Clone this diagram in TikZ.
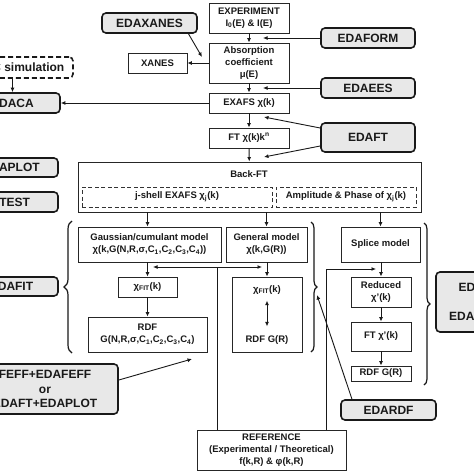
\documentclass[tikz,border=0pt]{standalone}
\usepackage{fontspec}
\setmainfont{Liberation Sans}
\usetikzlibrary{arrows.meta,decorations.pathreplacing}
\begin{document}
\begin{tikzpicture}[x=1pt,y=-1pt,
  box/.style={draw=black!85, line width=0.9pt, fill=white, text=black!90,
    font=\fontsize{9.5}{12}\selectfont\bfseries, align=center, inner sep=1pt},
  gbox/.style={draw=black!90, line width=1.6pt, rounded corners=4pt, fill=black!9, text=black!90,
    font=\fontsize{12}{14.5}\selectfont\bfseries, align=center, inner sep=1pt},
  dbox/.style={draw=black!80, line width=1pt, dash pattern=on 4pt off 2.5pt, text=black!90,
    font=\fontsize{9.5}{12}\selectfont\bfseries, align=center, inner sep=1pt},
  lbl/.style={text=black!90, font=\fontsize{9.5}{12}\selectfont\bfseries, align=center, inner sep=1pt},
  arr/.style={-{Latex[length=4.5pt,width=4pt]}, line width=0.9pt, draw=black!90},
  darr/.style={{Latex[length=4.5pt,width=4pt]}-{Latex[length=4.5pt,width=4pt]}, line width=0.9pt, draw=black!90},
  lnk/.style={line width=0.9pt, draw=black!90},
  brc/.style={decorate, decoration={brace, amplitude=#1}, line width=1.2pt, draw=black!90}
]
\useasboundingbox (0,0) rectangle (474,474);
\fill[white] (0,0) rectangle (474,474);

% main column
\node[box, minimum width=80pt, minimum height=30pt] (exp) at (249,18) {EXPERIMENT\\I\textsubscript{0}(E) \& I(E)};
\node[box, minimum width=80pt, minimum height=40pt] (abs) at (249,63) {Absorption\\coefficient\\μ(E)};
\node[box, minimum width=80pt, minimum height=20pt] (exafs) at (249,103) {EXAFS χ(k)};
\node[box, minimum width=80pt, minimum height=20pt] (ft) at (249,138) {FT χ(k)k\textsuperscript{n}};
\node[box, minimum width=59pt, minimum height=20pt] (xanes) at (157.5,63) {XANES};

% gray program boxes
\node[gbox, minimum width=95pt, minimum height=20pt] (edaxanes) at (149.5,23) {EDAXANES};
\node[gbox, minimum width=94pt, minimum height=20pt] (edaform) at (368,38) {EDAFORM};
\node[gbox, minimum width=94pt, minimum height=20pt] (edaees) at (368,88) {EDAEES};
\node[gbox, minimum width=94pt, minimum height=29pt] (edaft) at (368,137.5) {EDAFT};
\node[gbox, minimum width=95pt, minimum height=20pt] (edaca) at (12.5,103) {EDACA};
\node[gbox, minimum width=94pt, minimum height=19pt] (edaplot) at (11,167.5) {EDAPLOT};
\node[gbox, minimum width=94pt, minimum height=20pt] (ftest) at (11,202) {FTEST};
\node[gbox, minimum width=93pt, minimum height=19pt] (edafit) at (11.5,286.5) {EDAFIT};
\node[gbox, minimum width=95pt, minimum height=20pt] (edardf) at (388.5,410) {EDARDF};
\node[gbox, minimum width=146pt, minimum height=50pt] (feff) at (45,389) {FEFF+EDAFEFF\\or\\EDAFT+EDAPLOT};
\node[gbox, minimum width=95pt, minimum height=60pt] (rbox) at (483.5,302) {EDARDF\\or\\EDASPLICE};
\node[gbox, fill=white, dash pattern=on 5pt off 3pt, minimum width=130pt, minimum height=21pt] (sim) at (8,67.5) {MD/RMC simulation};

% Back-FT block
\node[box, minimum width=343pt, minimum height=50pt] (backft) at (249.5,187) {};
\node[lbl] (backftlbl) at (249,174) {Back-FT};
\node[dbox, minimum width=190pt, minimum height=20pt] (jshell) at (177,197) {j-shell EXAFS χ\textsubscript{j}(k)};
\node[dbox, minimum width=140pt, minimum height=20pt] (amp) at (346,197) {Amplitude \& Phase of χ\textsubscript{j}(k)};

% models
\node[box, minimum width=143pt, minimum height=35pt] (gauss) at (149.5,244.5) {Gaussian/cumulant model\\χ(k,G(N,R,σ,C\textsubscript{1},C\textsubscript{2},C\textsubscript{3},C\textsubscript{4}))};
\node[box, minimum width=81pt, minimum height=35pt] (general) at (266.5,244.5) {General model\\χ(k,G(R))};
\node[box, minimum width=79pt, minimum height=35pt] (splice) at (380.5,244.5) {Splice model};

\node[box, minimum width=59pt, minimum height=20pt] (chifit) at (147.5,287) {χ\textsubscript{FIT}(k)};
\node[box, minimum width=119pt, minimum height=35pt] (rdfg) at (147.5,334.5) {RDF\\G(N,R,σ,C\textsubscript{1},C\textsubscript{2},C\textsubscript{3},C\textsubscript{4})};

\node[box, minimum width=70pt, minimum height=75pt] (genbox) at (267,314.5) {};
\node[lbl] (gchi) at (267,290) {χ\textsubscript{FIT}(k)};
\node[lbl] (grdf) at (267,340) {RDF G(R)};

\node[box, minimum width=60pt, minimum height=30pt] (reduced) at (381,292) {Reduced\\χ'(k)};
\node[box, minimum width=60pt, minimum height=29pt] (ftchi) at (381,336.5) {FT χ'(k)};
\node[box, minimum width=60pt, minimum height=15pt] (rdfsp) at (381,373.5) {RDF G(R)};

\node[box, minimum width=149pt, minimum height=40pt] (reference) at (271.5,450) {REFERENCE\\(Experimental / Theoretical)\\f(k,R) \& φ(k,R)};

% coordinates
\coordinate (pform) at (263,38);
\coordinate (pees) at (263,88);
\coordinate (pft1) at (264,117);
\coordinate (pft2) at (264,157);
\coordinate (pxan) at (202,57);
\coordinate (jl) at (217,267);
\coordinate (jlL) at (153,267);
\coordinate (jlR) at (262,267);
\coordinate (jr) at (326,269);
\coordinate (jrR) at (376,269);
\coordinate (prdf) at (317,295);
\coordinate (pfeff) at (192,359);

% connectors
\draw[arr] (exp) -- (abs);
\draw[arr] (abs) -- (exafs);
\draw[arr] (exafs) -- (ft);
\draw[arr] (ft) -- (backft);
\draw[arr] (abs) -- (xanes);
\draw[arr] (exafs) -- (edaca);
\draw[arr] (edaca.north |- sim.south) -- (edaca.north);
\draw[arr] (edaform.west) -- (pform);
\draw[arr] (edaees.west) -- (pees);
\draw[arr] (edaft.west |- 0,128) -- (pft1);
\draw[arr] (edaft.west |- 0,146) -- (pft2);
\draw[arr] (188,33) -- (pxan);

\draw[arr] (chifit.north |- backft.south) -- (chifit.north |- gauss.north);
\draw[arr] (general.north |- backft.south) -- (general.north);
\draw[arr] (splice.north |- backft.south) -- (splice.north);
\draw[arr] (chifit.north |- gauss.south) -- (chifit.north);
\draw[arr] (chifit) -- (rdfg);
\draw[arr] (genbox.north |- general.south) -- (genbox.north);
\draw[darr, shorten <=5pt, shorten >=8pt] (gchi) -- (grdf);
\draw[arr] (reduced.north |- splice.south) -- (reduced.north);
\draw[arr] (reduced) -- (ftchi);
\draw[arr] (ftchi) -- (rdfsp);

\draw[lnk] (reference.north -| jl) -- (jl);
\draw[arr] (jl) -- (jlL);
\draw[arr] (jl) -- (jlR);
\draw[lnk] (reference.north -| jr) -- (jr);
\draw[arr] (jr) -- (jrR);
\draw[arr] (edardf.north west -| 352,0) -- (prdf);
\draw[arr] (feff.east |- 0,380) -- (pfeff);

% braces
\draw[brc=8pt] (72,353) -- (72,221);
\draw[brc=6pt] (311,222) -- (311,352);
\draw[brc=6pt] (424,223) -- (424,385);
\end{tikzpicture}
\end{document}
